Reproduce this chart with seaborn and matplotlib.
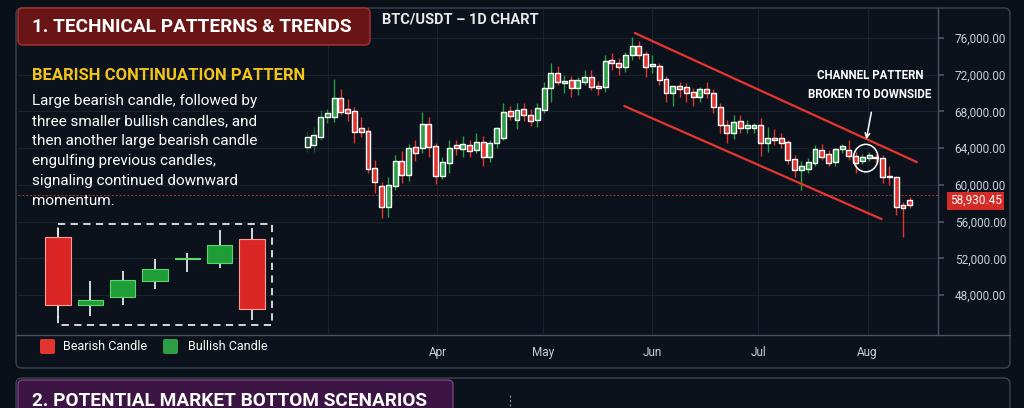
import numpy as np
import pandas as pd
import matplotlib
matplotlib.use("Agg")
import matplotlib.pyplot as plt
import matplotlib.transforms as mtransforms
from matplotlib.patches import FancyBboxPatch, Rectangle, Ellipse
from matplotlib.ticker import FuncFormatter
import seaborn as sns

# BTC/USDT candles (oldest first)
opens = [64120, 64340, 65210, 67390, 67390, 69460, 68260, 68040, 66190, 65860,
         61830, 59870, 57580, 59870, 62590, 61070, 64120, 64010, 66620, 64230,
         60960, 62370, 64340, 63900, 64340, 63790, 64660, 63030, 64550, 65100,
         68040, 67060, 68260, 67610, 67060, 68150, 70550, 72180, 71090, 71420,
         70550, 71200, 71750, 70770, 70660, 73600, 73270, 72840, 74150, 75130,
         74250, 72950, 72950, 71530, 70000, 70770, 70660, 70110, 69570, 70440,
         70000, 68480, 66520, 65640, 66950, 66190, 66190, 66520, 64550, 65100,
         65100, 64660, 62810, 61610, 61720, 62370, 63790, 63350, 62480, 63900,
         63790, 63140, 62590, 62920, 63030, 62920, 60960, 60850, 57800, 58340]
highs = [65750, 66300, 68150, 68260, 71530, 70440, 69350, 68480, 67390, 66300,
         62700, 60300, 60850, 63250, 63680, 64440, 64880, 67930, 67390, 64550,
         63030, 64880, 64880, 65320, 64880, 65640, 65320, 64880, 66300, 68910,
         68590, 68910, 68910, 68260, 68910, 71200, 73270, 72950, 71970, 71860,
         71750, 72510, 72510, 71310, 74150, 74360, 73820, 74470, 76110, 75670,
         74580, 74150, 73270, 71860, 70770, 71200, 71090, 70550, 70660, 71200,
         70440, 68910, 67060, 67610, 67610, 67060, 66730, 67280, 66300, 66080,
         65640, 64880, 63250, 62590, 62920, 64340, 64440, 63790, 64010, 64440,
         64880, 63570, 63350, 63570, 63350, 63250, 62050, 60960, 58120, 58670]
lows = [63570, 63570, 64880, 66730, 66840, 67610, 66950, 64550, 65210, 61280,
        59100, 56380, 56490, 59430, 60190, 60410, 62590, 63460, 63030, 60080,
        60630, 61280, 63250, 63030, 63030, 63460, 62050, 62480, 64010, 64880,
        67060, 66080, 66950, 66410, 66300, 67820, 69020, 70880, 70000, 69570,
        69790, 70880, 70330, 69790, 70110, 72510, 71970, 72290, 73600, 73710,
        71750, 72180, 70880, 69020, 68590, 69570, 69020, 68590, 69020, 69460,
        67820, 65640, 64550, 64990, 65640, 65640, 65640, 63140, 63570, 64340,
        64010, 62260, 60850, 59430, 61280, 62050, 62700, 62050, 62050, 63460,
        62700, 61280, 62260, 62590, 62480, 60190, 59980, 56710, 54310, 57470]
closes = [65210, 65430, 67390, 67820, 69460, 67930, 67820, 65750, 65750, 61720,
          60300, 57580, 59980, 62590, 61070, 64010, 63460, 66620, 64120, 60960,
          62480, 64010, 64010, 64440, 63680, 64660, 63030, 64550, 66190, 67930,
          67500, 68150, 67610, 66950, 68370, 70550, 72180, 71200, 71310, 70550,
          71420, 71750, 70660, 70550, 73490, 73270, 72840, 74150, 75130, 74150,
          72840, 73160, 71420, 70000, 70770, 70440, 70000, 69570, 70440, 70000,
          68480, 66520, 65640, 66840, 66190, 66520, 66520, 64550, 65100, 64880,
          64550, 62700, 61610, 62050, 62480, 63900, 63030, 62370, 63900, 64230,
          63140, 62370, 63030, 63250, 62920, 60850, 60850, 57580, 57470, 57800]
first_day = "2024-02-24"
last_day = "2024-08-13"
last_price = 58930.45

price_ticks = [48000, 52000, 56000, 60000, 64000, 68000, 72000, 76000]
month_ticks = ["2024-03-01", "2024-04-01", "2024-05-01", "2024-06-01", "2024-07-01", "2024-08-01"]
month_labels = ["", "Apr", "May", "Jun", "Jul", "Aug"]

# descending channel
upper_dates = ["2024-05-27", "2024-08-15"]
upper_prices = [76540, 62480]
lower_dates = ["2024-05-24", "2024-08-05"]
lower_prices = [68590, 56270]
circled = [82, 83]  # candles inside the white circle

# schematic of the bearish continuation pattern (relative price units)
pat_open = [93, 25, 33, 49, 71, 67, 91]
pat_high = [102, 49, 59, 71, 77, 100, 102]
pat_low = [12, 14, 25, 41, 58, 62, 10]
pat_close = [25, 30, 50, 61, 72, 85, 21]

body_text = ["Large bearish candle, followed by",
             "three smaller bullish candles, and",
             "then another large bearish candle",
             "engulfing previous candles,",
             "signaling continued downward",
             "momentum."]

BG = "#0a1017"
PANEL = "#0b121b"
EDGE = "#3c4552"
RED = "#e3342f"
GREEN = "#2c9f45"
TXT = "#c9ced6"

sns.set_theme(style="dark", rc={"axes.facecolor": "none", "figure.facecolor": BG})
plt.rcParams["font.family"] = ["Roboto", "DejaVu Sans"]

fig = plt.figure(figsize=(10.24, 4.08), dpi=100, facecolor=BG)

# background layer in pixel units
bg = fig.add_axes([0, 0, 1, 1], zorder=0)
bg.set_xlim(0, 1024)
bg.set_ylim(408, 0)
bg.axis("off")
bg.add_patch(FancyBboxPatch((16, 8), 994, 360, boxstyle="round,pad=0,rounding_size=6",
                            fc=PANEL, ec=EDGE, lw=1.0))
bg.add_patch(FancyBboxPatch((16, 378), 994, 60, boxstyle="round,pad=0,rounding_size=6",
                            fc=PANEL, ec=EDGE, lw=1.0))
bg.plot([16, 1010], [335, 335], color="#4b5361", lw=1.0)

# main candle chart
ax = fig.add_axes([18 / 1024, 73 / 408, 920 / 1024, 327 / 408], zorder=1)
ax.set_facecolor("none")

df = pd.DataFrame({
    "date": pd.date_range(first_day, last_day, periods=len(opens)),
    "open": opens, "high": highs, "low": lows, "close": closes,
})
bull = df["close"] >= df["open"]
colors = np.where(bull, GREEN, RED)
fade = np.clip(0.35 + np.arange(len(df)) * 0.16, 0, 1)
rgba = [matplotlib.colors.to_rgba(c, a) for c, a in zip(colors, fade)]
ax.vlines(df["date"], df["low"], df["high"], colors=rgba, lw=1.0, zorder=3)
ax.bar(df["date"], (df["close"] - df["open"]).abs().clip(lower=80),
       bottom=df[["open", "close"]].min(axis=1), width=1.4, color=rgba, zorder=4)

channel = pd.DataFrame({
    "date": pd.to_datetime(upper_dates + lower_dates),
    "price": upper_prices + lower_prices,
    "line": ["upper"] * 2 + ["lower"] * 2,
})
sns.lineplot(data=channel, x="date", y="price", units="line", estimator=None,
             color="#e8352f", lw=1.6, ax=ax, zorder=5)

ax.axhline(last_price, color="#b8332d", lw=0.7, ls=(0, (2, 2)), zorder=2, clip_on=False)
ax.set_xlim(pd.Timestamp("2023-12-04"), pd.Timestamp("2024-08-21"))
ax.set_ylim(43640, 79270)
ax.set_xlabel("")
ax.set_ylabel("")
ax.set_yticks(price_ticks)
ax.yaxis.set_major_formatter(FuncFormatter(lambda v, _: f"{v:,.2f}"))
ax.yaxis.tick_right()
ax.set_xticks(pd.to_datetime(month_ticks))
ax.set_xticklabels(month_labels)
ax.tick_params(axis="y", length=4, pad=8, colors=TXT, labelsize=8.5, color="#4b5361")
ax.tick_params(axis="x", length=3, pad=5, colors=TXT, labelsize=8.5, color="#4b5361")
ax.grid(True, color="#18212c", lw=0.8)
for side in ["top", "left", "bottom"]:
    ax.spines[side].set_visible(False)
ax.spines["right"].set_color("#4b5361")
ax.spines["right"].set_linewidth(1.0)

# last-price tag, nudged below the 60,000 label as in the original
blend = mtransforms.blended_transform_factory(ax.transAxes, ax.transData)
ax.annotate(f"{last_price:,.2f}", xy=(1, last_price), xycoords=blend,
            xytext=(12, -6), textcoords="offset pixels", ha="left", va="center",
            color="white", fontsize=8.5, zorder=6, annotation_clip=False,
            bbox=dict(boxstyle="square,pad=0.22", fc="#d52b26", ec="none"))

# circled candles and callout
c_date = df["date"].iloc[circled].mean()
c_price = (df["high"].iloc[circled].max() + df["low"].iloc[circled].min()) / 2
ax.add_patch(Ellipse((c_date, c_price), width=7, height=3000, fill=False, ec="white", lw=1.1, zorder=6))
ax.annotate("CHANNEL PATTERN\nBROKEN TO DOWNSIDE", xy=(c_date, c_price + 1750),
            xytext=(4, 57), textcoords="offset pixels", ha="center", va="center",
            color="white", fontsize=8.3, fontweight="bold", linespacing=1.55, zorder=7,
            arrowprops=dict(arrowstyle="->", color="white", lw=1.1, relpos=(0.53, 0),
                            shrinkA=6, shrinkB=2))

# text overlay in pixel units
top = fig.add_axes([0, 0, 1, 1], zorder=3)
top.set_xlim(0, 1024)
top.set_ylim(408, 0)
top.axis("off")
top.add_patch(FancyBboxPatch((18, 8), 352, 37, boxstyle="round,pad=0,rounding_size=5",
                             fc="#6a1515", ec="#a83434", lw=1.0))
top.text(32, 27, "1. TECHNICAL PATTERNS & TRENDS", color="white", fontsize=13.7,
         fontweight="bold", va="center", ha="left")
top.text(382, 20, "BTC/USDT – 1D CHART", color="#e8e8e8", fontsize=10.5,
         fontweight="bold", va="center", ha="left")
top.text(32, 75, "BEARISH CONTINUATION PATTERN", color="#f2c318", fontsize=12,
         fontweight="bold", va="center", ha="left")
for i, line in enumerate(body_text):
    top.text(32, 101 + 20 * i, line, color="white", fontsize=11, va="center", ha="left")

top.add_patch(Rectangle((58, 224), 214, 101, fill=False, ec="#e6e6e6", lw=1.3, ls=(0, (4, 3))))

top.add_patch(FancyBboxPatch((40, 339), 15, 15, boxstyle="round,pad=0,rounding_size=2",
                             fc=RED, ec="none"))
top.text(63, 347, "Bearish Candle", color="white", fontsize=9, va="center", ha="left")
top.add_patch(FancyBboxPatch((163, 339), 15, 15, boxstyle="round,pad=0,rounding_size=2",
                             fc=GREEN, ec="none"))
top.text(188, 347, "Bullish Candle", color="white", fontsize=9, va="center", ha="left")

top.add_patch(FancyBboxPatch((18, 380), 435, 50, boxstyle="round,pad=0,rounding_size=5",
                             fc="#3d1544", ec="#7a3f86", lw=1.0))
top.text(32, 401, "2. POTENTIAL MARKET BOTTOM SCENARIOS", color="white", fontsize=13.7,
         fontweight="bold", va="center", ha="left")
top.plot([510, 510], [395, 408], color="#8a9099", lw=0.8, ls=(0, (2, 2)))

# schematic candles
mini = fig.add_axes([26 / 1024, 78 / 408, 264 / 1024, 108 / 408], zorder=4)
mini.set_facecolor("none")
mini.set_xlim(-0.99, 7.175)
mini.set_ylim(0, 108)
mini.axis("off")
pat = pd.DataFrame({"x": range(len(pat_open)), "open": pat_open, "high": pat_high,
                    "low": pat_low, "close": pat_close})
p_bull = pat["close"] >= pat["open"]
p_face = np.where(p_bull, "#1f9e38", "#dc2626")
p_edge = np.where(p_bull, "#5fd36f", "#ff9a94")
mini.vlines(pat["x"], pat["low"], pat["high"], colors="#e8e8e8", lw=1.3, zorder=1)
mini.bar(pat["x"], (pat["close"] - pat["open"]).abs().clip(lower=1.2),
         bottom=pat[["open", "close"]].min(axis=1), width=0.78,
         color=p_face, edgecolor=p_edge, lw=0.8, zorder=2)

fig.savefig("out.png", dpi=100, facecolor=BG)
